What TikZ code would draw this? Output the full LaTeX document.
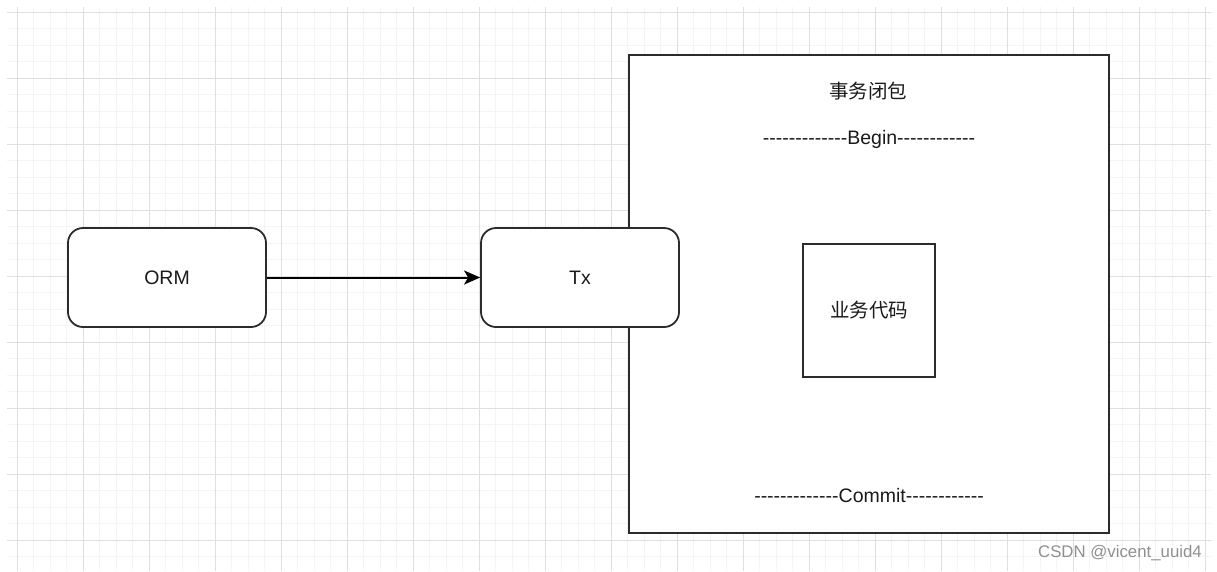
\documentclass[tikz,border=0pt]{standalone}
\usepackage{fontspec}
\setmainfont{Liberation Sans}[Ligatures=TeXOff]
\newfontfamily\cjk{Noto Sans CJK SC}
\usetikzlibrary{arrows.meta}
\definecolor{minorgrid}{HTML}{F4F4F4}
\definecolor{majorgrid}{HTML}{DFDFDF}
\definecolor{boxline}{HTML}{2B2B2B}
\definecolor{txt}{HTML}{1A1A1A}
\definecolor{wm}{HTML}{8F8F8F}
\tikzset{
  box/.style={draw=boxline, line width=1.8pt, fill=white, text=txt, inner sep=0pt},
  rbox/.style={box, rounded corners=15pt, minimum width=198pt, minimum height=99pt},
  lbl/.style={text=txt, inner sep=0pt, font=\fontsize{19.5}{22}\selectfont},
  arr/.style={draw=black, line width=2pt, -{Stealth[length=16pt,width=14pt,inset=4pt]}},
}
\begin{document}
\begin{tikzpicture}[x=1pt,y=-1pt]
\useasboundingbox (0,0) rectangle (1217,571);
% grid
\foreach \k in {1,...,73} {
  \pgfmathsetmacro\xx{0.5+16.5*\k}
  \draw[minorgrid, line width=1pt] (\xx,7) -- (\xx,571);
}
\foreach \k in {0,...,33} {
  \pgfmathsetmacro\yy{12+16.5*\k}
  \draw[minorgrid, line width=1pt] (7,\yy) -- (1211,\yy);
}
\foreach \k in {0,...,18} {
  \pgfmathsetmacro\xx{17+66*\k}
  \draw[majorgrid, line width=1pt] (\xx,7) -- (\xx,571);
}
\foreach \k in {0,...,8} {
  \pgfmathsetmacro\yy{12+66*\k}
  \draw[majorgrid, line width=1pt] (7,\yy) -- (1211,\yy);
}
% big container
\node[box, minimum width=480pt, minimum height=478pt] (closure) at (869,294) {};
\node[lbl] (title) at (868,91) {\cjk 事务闭包};
\node[lbl] (begin) at (869,139) {-------------Begin------------};
\node[lbl] (commit) at (869,496) {-------------Commit------------};
\node[box, minimum width=132pt, minimum height=133pt, font=\fontsize{19.5}{22}\selectfont] (biz) at (869,310.5) {\cjk 业务代码};
% nodes
\node[rbox, font=\fontsize{19.5}{22}\selectfont] (orm) at (167,277.5) {ORM};
\node[rbox, font=\fontsize{19.5}{22}\selectfont] (tx) at (580,277.5) {Tx};
\draw[arr] (orm.east) -- (tx.west);
% watermark
\node[text=wm, inner sep=0pt, anchor=east, font=\fontsize{16.8}{19}\selectfont] (wmark) at (1202,553) {CSDN @vicent\_uuid4};
\end{tikzpicture}
\end{document}
